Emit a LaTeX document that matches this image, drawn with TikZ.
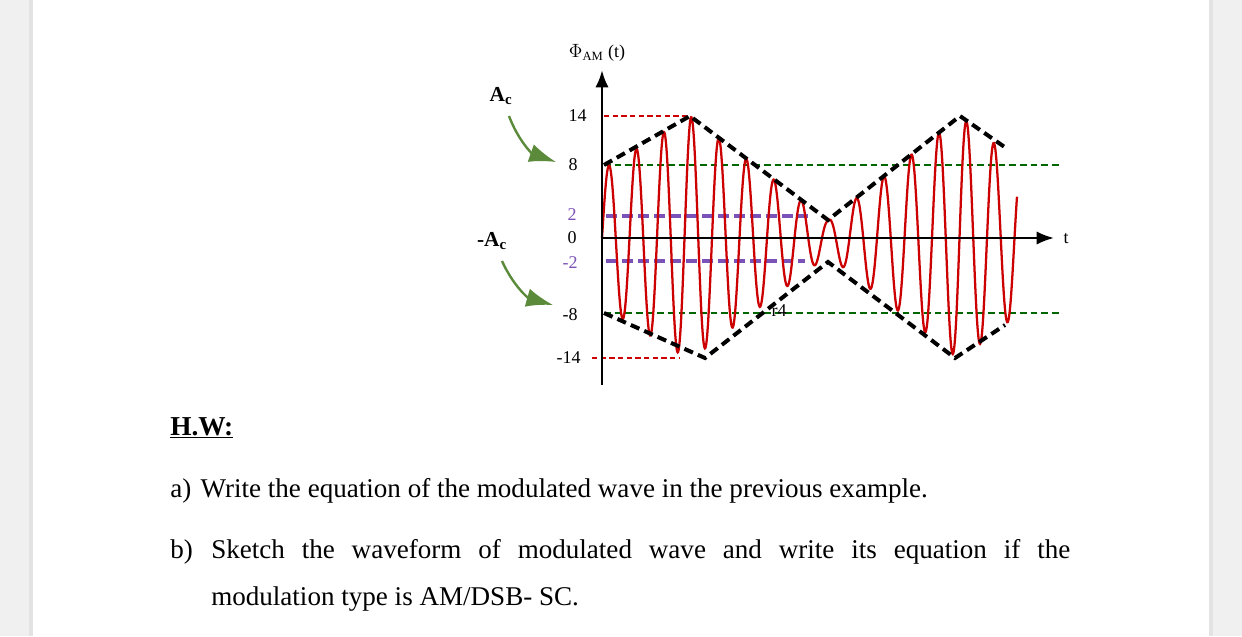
\documentclass[tikz,border=0pt]{standalone}
\usepackage{fontspec}
\setmainfont{Liberation Serif}
\usetikzlibrary{arrows.meta}
\definecolor{olivegr}{HTML}{5A8A3A}
\definecolor{purp}{HTML}{7A52B8}
\begin{document}
\begin{tikzpicture}[x=0.75pt,y=-0.75pt,
  lab/.style={font=\fontsize{13.5}{15}\selectfont,inner sep=0pt},
  envl/.style={black,line width=3pt,dash pattern=on 7pt off 4pt},
  grn/.style={green!40!black,line width=1.4pt,dash pattern=on 5pt off 3pt},
  prp/.style={purp,line width=3pt,dash pattern=on 8pt off 4pt},
  rdd/.style={red!80!black,line width=1.6pt,dash pattern=on 4pt off 2.5pt},
  garr/.style={olivegr,line width=1.8pt,-{Latex[length=20pt,width=14pt]}},
  body/.style={font=\fontsize{20.3}{24}\selectfont,anchor=base west,inner sep=0pt}]
\fill[white] (0,0) rectangle (1242,636);
\useasboundingbox (0,0) rectangle (1242,636);
\fill[gray!12] (0,0) rectangle (31,636);
\fill[gray!22] (29,0) rectangle (33,636);
\fill[gray!12] (1211,0) rectangle (1242,636);
\fill[gray!22] (1209,0) rectangle (1213,636);
% guides
\draw[rdd] (604,116) -- (690,116);
\draw[rdd] (592,358) -- (680,358);
\draw[grn] (604,165) -- (1060,165);
\draw[grn] (604,313) -- (1060,313);
\draw[prp] (606,216) -- (808,216);
\draw[prp] (606,261) -- (805,261);
% wave
\draw[red!80!black,line width=1.7pt,samples=900,domain=0:415,smooth,xshift=451.5pt]
  plot (\x,{238-8.7*(\x<88 ? 8+6*(\x-2)/86 : (\x<226 ? 14-12*(\x-88)/138 : (\x<358 ? 2+12*(\x-226)/132 : 14-12*(\x-358)/132)))*sin(13.0909*\x)});
% envelopes
\draw[envl] (604,165) -- (690,116) -- (828,220) -- (960,116) -- (1006,148);
\draw[envl] (604,313) -- (705,358) -- (828,262) -- (955,358) -- (1005,325);
% axes
\coordinate (o) at (602,238);
\coordinate (ytop) at (602,70);
\coordinate (ybot) at (602,385);
\coordinate (xend) at (1054,238);
\draw[line width=2.2pt,-{Latex[length=13pt,width=10pt]}] (ybot) -- (ytop);
\draw[line width=1.8pt,-{Latex[length=13pt,width=10pt]}] (o) -- (xend);
\node[lab] (phi) at (597,53) {$\Phi$\textsubscript{AM} (t)};
\node[lab] (tl) at (1066,239) {t};
\node[lab,anchor=east] (l14) at (587,116) {14};
\node[lab,anchor=east] (l8) at (578,165) {8};
\node[lab,anchor=east,text=purp] (l2) at (577,215) {2};
\node[lab,anchor=east] (l0) at (577,238) {0};
\node[lab,anchor=east,text=purp] (lm2) at (578,263) {-2};
\node[lab,anchor=east] (lm8) at (578,315) {-8};
\node[lab,anchor=east] (lm14) at (581,358) {-14};
\node[lab] (r4) at (779,311) {r4};
% Ac labels
\node[font=\bfseries\fontsize{16}{18}\selectfont,inner sep=0pt] (ac) at (501,96) {A\textsubscript{c}};
\node[font=\bfseries\fontsize{16}{18}\selectfont,inner sep=0pt] (mac) at (492,241) {-A\textsubscript{c}};
\coordinate (a1) at (556,162);
\coordinate (a2) at (553,305);
\draw[garr] (509,116) to[bend right=25] (a1);
\draw[garr] (502,261) to[bend right=25] (a2);
% text
\node[body,font=\bfseries\fontsize{20.5}{24}\selectfont] (hw) at (170,435) {\underline{H.W:}};
\node[body] (la) at (170,497) {a)\hspace{7pt}Write the equation of the modulated wave in the previous example.};
\node[body] (lbl) at (170,558) {b)};
\node[body] (lb) at (211,558) {\makebox[644.25pt][s]{Sketch\hfill the\hfill waveform\hfill of\hfill modulated\hfill wave\hfill and\hfill write\hfill its\hfill equation\hfill if\hfill the}};
\node[body] (lc) at (211,605) {modulation type is AM/DSB- SC.};
\end{tikzpicture}
\end{document}
